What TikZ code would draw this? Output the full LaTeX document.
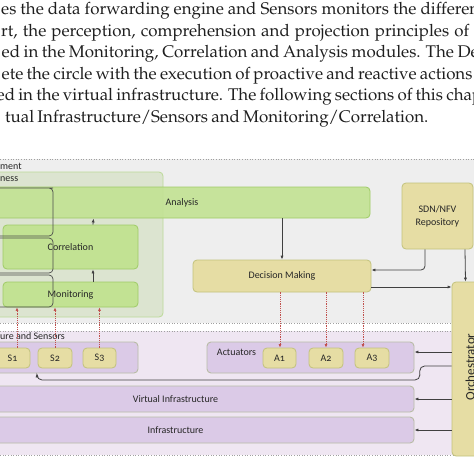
\documentclass[tikz,border=0pt]{standalone}
\usepackage[T1]{fontenc}
\usepackage{fontspec}
\usetikzlibrary{arrows.meta,calc}
\newfontfamily\diagfont{Carlito}[Numbers=OldStyle]
\newcommand\palfont{\fontencoding{T1}\fontfamily{ppl}\selectfont}
\definecolor{mgmtbg}{HTML}{EEEEEE}
\definecolor{lowbg}{HTML}{EFE6F2}
\definecolor{awF}{HTML}{DCE4D0}
\definecolor{awB}{HTML}{BCDA98}
\definecolor{grnF}{HTML}{C2E293}
\definecolor{grnB}{HTML}{9FCB66}
\definecolor{tanF}{HTML}{E6DDA4}
\definecolor{tanB}{HTML}{C2C27C}
\definecolor{purF}{HTML}{DBCAE7}
\definecolor{purB}{HTML}{B8BCA6}
\definecolor{redc}{HTML}{C0504D}
\definecolor{dotc}{HTML}{A0A0A0}
\begin{document}
\begin{tikzpicture}[x=1pt,y=-1pt,
  txt/.style={anchor=base west,inner sep=0pt,font=\fontsize{16.9}{20}\palfont,text=black!88},
  lbl/.style={font=\diagfont\fontsize{10}{12}\selectfont,text=black!85,inner sep=0pt},
  awbox/.style={draw=awB,fill=awF,rounded corners=4pt,line width=0.8pt},
  grnbox/.style={draw=grnB,fill=grnF,rounded corners=4pt,line width=0.8pt,lbl},
  tanbox/.style={draw=tanB,fill=tanF,rounded corners=4pt,line width=0.8pt,lbl},
  purbox/.style={draw=purB,fill=purF,rounded corners=4pt,line width=0.9pt,lbl},
  sbox/.style={draw=tanB,fill=tanF,rounded corners=4pt,line width=0.8pt,lbl,minimum height=20pt},
  outl/.style={draw=black!70,line width=0.7pt,rounded corners=4pt},
  dotl/.style={draw=dotc,line width=0.6pt,dotted},
  arr/.style={-{Latex[length=4pt,width=3.2pt]},draw=black!75,line width=0.8pt},
  rarr/.style={-{Latex[length=3.5pt,width=3pt]},draw=redc,line width=0.7pt,dash pattern=on 1.2pt off 1pt}]
\useasboundingbox (0,0) rectangle (474,474);
\fill[white] (0,0) rectangle (474,474);
% paragraph text
\node[txt] (t1) at (1,14.5) {\makebox[478pt][s]{es the data forwarding engine and Sensors monitors the differen}};
\node[txt] (t2) at (1,36) {\makebox[468pt][s]{rt, the perception, comprehension and projection principles of}};
\node[txt] (t3) at (1.5,57.5) {\makebox[477pt][s]{ed in the Monitoring, Correlation and Analysis modules. The De}};
\node[txt] (t4) at (1.5,79) {\makebox[459.5pt][s]{ete the circle with the execution of proactive and reactive actions}};
\node[txt] (t5) at (-3.5,100.5) {\makebox[479pt][s]{ed in the virtual infrastructure. The following sections of this chap}};
\node[txt] (t6) at (5,122) {\makebox[416pt][s]{tual Infrastructure/Sensors and Monitoring/Correlation.}};
% management region
\fill[mgmtbg] (-5,159) rectangle (480,323);
\draw[dotl] (-5,159) -- (480,159);
\draw[dotl] (-5,323) -- (480,323);
\node[lbl,anchor=west] (mgl) at (0,166.5) {ment};
% lower region
\fill[lowbg] (-5,331) rectangle (480,455);
\draw[dotl] (-5,331) -- (480,331);
\draw[dotl] (-5,455) -- (480,455);
\node[lbl,anchor=west] (isl) at (0,336.5) {ure and Sensors};
% awareness
\node[awbox,minimum width=183pt,minimum height=145pt] (aw) at (71.5,244.5) {};
\node[lbl,anchor=west] (awl) at (0,179) {ness};
\node[grnbox,fill opacity=0.9,text opacity=1,minimum width=376pt,minimum height=31pt] (ana) at (182,202.5) {Analysis};
\node[grnbox,minimum width=135pt,minimum height=44pt] (cor) at (70.5,247) {Correlation};
\node[grnbox,minimum width=135pt,minimum height=25pt] (mon) at (70.5,294.5) {Monitoring};
% outlines on the left
\draw[outl] (-10,188) -- (49,188) -- (53,188) -- (53,236) -- (-10,236);
\draw[outl] (-10,238) -- (53,238) -- (53,273) -- (-10,273);
\draw[outl] (-10,275) -- (53,275) -- (53,307) -- (-10,307);
% decision / sdn / orchestrator
\node[tanbox,minimum width=178pt,minimum height=32pt] (dec) at (282,276) {Decision Making};
\node[tanbox,minimum width=71pt,minimum height=66pt,align=center] (sdn) at (437.5,216) {SDN/NFV\\[1pt]Repository};
\node[tanbox,minimum width=44pt,minimum height=174pt] (orch) at (474,369) {};
\node[font=\diagfont\fontsize{13}{15}\selectfont,text=black!85,rotate=90,anchor=base,inner sep=0pt] (orcht) at (474.5,367) {Orchestrator};
% sensors
\node[purbox,minimum width=158pt,minimum height=31pt] (sens) at (59,357.5) {};
\node[sbox,minimum width=35pt] (s1) at (12.5,358) {S1};
\node[sbox,minimum width=34pt] (s2) at (55,358) {S2};
\node[sbox,minimum width=33pt] (s3) at (99.5,358) {S3};
% actuators
\node[purbox,minimum width=207pt,minimum height=31pt] (act) at (310.5,357.5) {};
\node[lbl] (actl) at (236.5,352.5) {Actuators};
\node[sbox,minimum width=33pt] (a1) at (279.5,358) {A1};
\node[sbox,minimum width=34pt] (a2) at (326,358) {A2};
\node[sbox,minimum width=34pt] (a3) at (372,358) {A3};
% infrastructure bars
\node[purbox,minimum width=477pt,minimum height=26pt] (vinf) at (175.5,399) {Virtual Infrastructure};
\node[purbox,minimum width=477pt,minimum height=26pt] (inf) at (175.5,430) {Infrastructure};
% black arrows
\draw[arr] ($(mon.north)+(22.5,0)$) -- ($(cor.south)+(22.5,0)$);
\draw[arr] ($(cor.north)+(22.5,0)$) -- ($(ana.south)+(-88.5,0)$);
\draw[arr] (ana.south -| dec.north) -- (dec.north);
\draw[arr,rounded corners=4pt] ($(sdn.south)+(-12.5,0)$) |- ($(dec.east)+(0,-6)$);
\draw[arr] ($(sdn.south)+(27.5,0)$) -- ($(orch.north)+(-8.5,0)$);
\draw[arr] ($(dec.east)+(0,11)$) -- ($(orch.west)+(0,-82)$);
\draw[arr] ($(orch.west)+(0,-17)$) -- ($(act.east)+(0,-5.5)$);
\draw[arr] (vinf.east -| orch.west) -- (vinf.east);
\draw[arr] (inf.east -| orch.west) -- (inf.east);
\coordinate (bend) at (420,380);
\draw[arr,rounded corners=5pt] ($(orch.west)+(0,-3)$) -- ($(orch.west)+(-32,-3)$) -- (bend) -- (bend -| 37,0) -- ($(sens.south)+(-22,0)$);
% red dotted arrows
\draw[rarr] ($(s1.north)+(4.5,0)$) -- ($(mon.south)+(-53.5,0)$);
\draw[rarr] (s2.north) -- ($(mon.south)+(-15.5,0)$);
\draw[rarr] (s3.north) -- ($(mon.south)+(29,0)$);
\draw[rarr] ($(dec.south)+(-2,0)$) -- ($(a1.north)+(0.5,0)$);
\draw[rarr] ($(dec.south)+(44,0)$) -- (a2.north);
\draw[rarr] ($(dec.south)+(81,0)$) -- ($(a3.north)+(-9,0)$);
\end{tikzpicture}
\end{document}
